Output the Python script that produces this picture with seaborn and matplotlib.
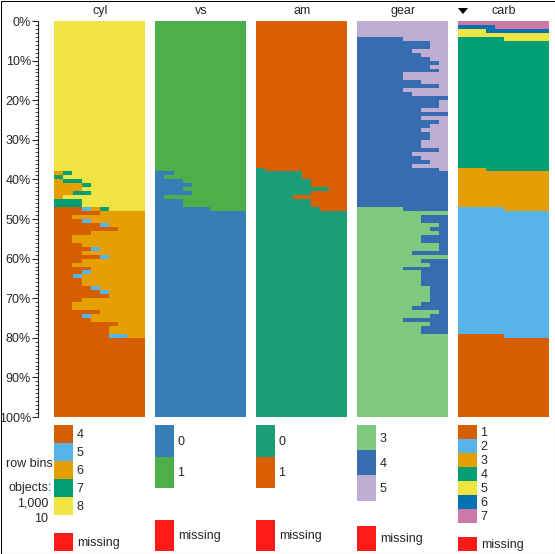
import numpy as np
import pandas as pd
import matplotlib
matplotlib.use("Agg")
import matplotlib.pyplot as plt
from matplotlib.patches import Rectangle, Polygon
import seaborn as sns

sns.set_style("white")
plt.rcParams['font.family'] = ['Liberation Sans', 'DejaVu Sans']

# ---------------- data: counts of objects per row bin (100 bins, 10 objects each) ----------
columns = ["cyl", "vs", "am", "gear", "carb"]

cyl_levels = ["4", "5", "6", "7", "8"]
cyl_n4 = [0]*38 + [0, 0, 0, 0, 0, 0, 0, 0, 0, 3] + \
    [5, 2, 3, 5, 7, 4, 2, 2, 3, 4, 3, 5, 3, 2, 4, 3, 2, 3, 3, 4, 5, 6, 3, 2, 2, 5, 3, 4, 7, 6, 6, 6] + [10]*20
cyl_n5 = [0]*38 + [0, 0, 0, 0, 0, 0, 0, 0, 0, 1] + \
    [0, 0, 1, 1, 0, 0, 0, 0, 0, 1, 0, 1, 0, 0, 0, 1, 1, 0, 0, 1, 1, 0, 0, 0, 0, 0, 1, 0, 0, 0, 0, 2] + [0]*20
cyl_n6 = [0]*38 + [1, 0, 1, 3, 3, 2, 1, 0, 0, 1] + \
    [5, 8, 6, 4, 3, 6, 8, 8, 7, 5, 7, 4, 7, 8, 6, 6, 7, 7, 7, 5, 4, 4, 7, 8, 8, 5, 6, 6, 3, 4, 4, 2] + [0]*20
cyl_n7 = [0]*38 + [1, 1, 2, 1, 0, 2, 0, 3, 3, 1] + [0]*52
cyl_n8 = [10]*38 + [8, 9, 7, 6, 7, 6, 9, 7, 7, 4] + [0]*52

vs_levels = ["0", "1"]
vs_n0 = [0]*38 + [2, 1, 3, 4, 3, 4, 1, 3, 3, 6] + [10]*52
vs_n1 = [10]*38 + [8, 9, 7, 6, 7, 6, 9, 7, 7, 4] + [0]*52

am_levels = ["0", "1"]
am_n0 = [0]*37 + [1, 5, 5, 6, 6, 8, 6, 4, 6, 6, 7] + [10]*52
am_n1 = [10]*37 + [9, 5, 5, 4, 4, 2, 4, 6, 4, 4, 3] + [0]*52

gear_levels = ["3", "4", "5"]
gear_n3 = [0]*47 + [5, 10, 7, 7, 9, 8, 9, 7, 7, 9, 9, 6, 10, 7, 8, 5, 7, 7, 7, 7, 8, 8, 8, 8,
                    7, 6, 9, 8, 5, 8, 7, 7] + [10]*21
gear_n4 = [0, 0, 0, 0, 5, 8, 8, 6, 7, 8, 9, 8, 9, 5, 5, 7, 9, 5, 6, 10, 9, 9, 7, 10, 7, 9, 8, 7,
           8, 8, 7, 7, 9, 6, 7, 8, 6, 9, 10, 10, 10, 10, 10, 10, 10, 10, 10] + \
    [5, 0, 3, 3, 1, 2, 1, 3, 3, 1, 1, 4, 0, 3, 2, 5, 3, 3, 3, 3, 2, 2, 2, 2, 3, 4, 1, 2, 5, 2, 3, 3] + [0]*21
gear_n5 = [10, 10, 10, 10, 5, 2, 2, 4, 3, 2, 1, 2, 1, 5, 5, 3, 1, 5, 4, 0, 1, 1, 3, 0, 3, 1, 2, 3,
           2, 2, 3, 3, 1, 4, 3, 2, 4, 1, 0, 0, 0, 0, 0, 0, 0, 0, 0] + [0]*53

carb_levels = ["1", "2", "3", "4", "5", "6", "7"]
carb_n1 = [0]*79 + [5] + [10]*20
carb_n2 = [0]*47 + [5] + [10]*31 + [5] + [0]*20
carb_n3 = [0]*37 + [3] + [10]*9 + [5] + [0]*52
carb_n4 = [0]*4 + [5] + [10]*32 + [7] + [0]*62
carb_n5 = [0, 0, 3, 10, 5] + [0]*95
carb_n6 = [0, 4, 7, 0, 0] + [0]*95
carb_n7 = [10, 6, 0, 0, 0] + [0]*95

pct_ticks = [0, 10, 20, 30, 40, 50, 60, 70, 80, 90, 100]

# ---------------- palettes ----------------
okabe = ["#D55E00", "#56B4E9", "#E69F00", "#009E73", "#F0E442", "#0072B2", "#CC79A7"]
col_specs = {
    "cyl": (cyl_levels, [cyl_n4, cyl_n5, cyl_n6, cyl_n7, cyl_n8], okabe[:5]),
    "vs": (vs_levels, [vs_n0, vs_n1], ["#377EB8", "#4DAF4A"]),
    "am": (am_levels, [am_n0, am_n1], ["#1B9E77", "#D95F02"]),
    "gear": (gear_levels, [gear_n3, gear_n4, gear_n5], ["#7FC97F", "#386CB0", "#BEAED4"]),
    "carb": (carb_levels, [carb_n1, carb_n2, carb_n3, carb_n4, carb_n5, carb_n6, carb_n7], okabe),
}
missing_color = "#FF1A1A"

# ---------------- layout (pixels) ----------------
W, H = 555, 554
fig = plt.figure(figsize=(W / 100, H / 100), dpi=100)
fx = lambda x: x / W
fy = lambda y: 1 - y / H

plot_top, plot_bot = 21, 417
col_left0, col_w, col_step = 54.3, 91, 101
FS = 9

for i, name in enumerate(columns):
    levels, counts, colors = col_specs[name]
    df = pd.DataFrame({lv: c for lv, c in zip(levels, counts)})
    frac = df.div(df.sum(axis=1), axis=0)
    left = frac.cumsum(axis=1) - frac
    x0 = col_left0 + i * col_step
    ax = fig.add_axes([fx(x0), fy(plot_bot), col_w / W, (plot_bot - plot_top) / H])
    bins = np.arange(len(df)) + 0.5
    for lv, c in zip(levels, colors):
        ax.barh(bins, frac[lv].values, left=left[lv].values, height=1.0,
                color=c, linewidth=0, antialiased=False)
    ax.set_xlim(0, 1)
    ax.set_ylim(len(df), 0)
    ax.axis("off")
    fig.text(fx(x0 + col_w / 2), fy(11), name, ha="center", va="center", fontsize=FS)

    # legend
    n = len(levels)
    h = 126 / (n + 2)
    top = 425
    for k, (lv, c) in enumerate(zip(levels, colors)):
        y0 = top + k * h
        fig.add_artist(Rectangle((fx(x0), fy(y0 + h)), 19 / W, h / H,
                                 transform=fig.transFigure, facecolor=c, edgecolor="none", zorder=3))
        fig.text(fx(x0 + 22), fy(y0 + h / 2 + 1), lv, ha="left", va="center", fontsize=FS)
    ym = top + (n + 1) * h
    fig.add_artist(Rectangle((fx(x0), fy(ym + h)), 19 / W, h / H,
                             transform=fig.transFigure, facecolor=missing_color, edgecolor="none", zorder=3))
    fig.text(fx(x0 + 23), fy(ym + h / 2 + 1), "missing", ha="left", va="center", fontsize=FS)

# sort indicator on carb
fig.add_artist(Polygon([[fx(458), fy(8)], [fx(468), fy(8)], [fx(463), fy(14)]],
                       closed=True, transform=fig.transFigure, facecolor="black", edgecolor="none"))

# y axis with percentages
yax = fig.add_axes([fx(38), fy(plot_bot), 0.0001, (plot_bot - plot_top) / H])
yax.set_ylim(100, 0)
yax.set_xlim(0, 1)
for s in ["top", "right", "bottom"]:
    yax.spines[s].set_visible(False)
yax.spines["left"].set_linewidth(0.8)
yax.set_xticks([])
yax.set_yticks(pct_ticks)
yax.set_yticklabels([f"{v}%" for v in pct_ticks], fontsize=FS)
yax.set_yticks(np.arange(0, 101, 1), minor=True)
yax.tick_params(axis="y", which="major", length=4, width=0.8, pad=1, left=True)
yax.tick_params(axis="y", which="minor", length=2, width=0.6, left=True)
yax.patch.set_visible(False)

# row bin info texts
fig.text(fx(53), fy(464), "row bins", ha="right", va="center", fontsize=FS)
fig.text(fx(52), fy(488), "objects:", ha="right", va="center", fontsize=FS)
fig.text(fx(48), fy(503), "1,000", ha="right", va="center", fontsize=FS)
fig.text(fx(48), fy(519), "10", ha="right", va="center", fontsize=FS)

# outer frame
fig.add_artist(Rectangle((0.5 / W, 0.5 / H), 1 - 1.0 / W, 1 - 1.0 / H, transform=fig.transFigure,
                         fill=False, edgecolor="black", linewidth=0.75))

fig.savefig("out.png", dpi=100)
